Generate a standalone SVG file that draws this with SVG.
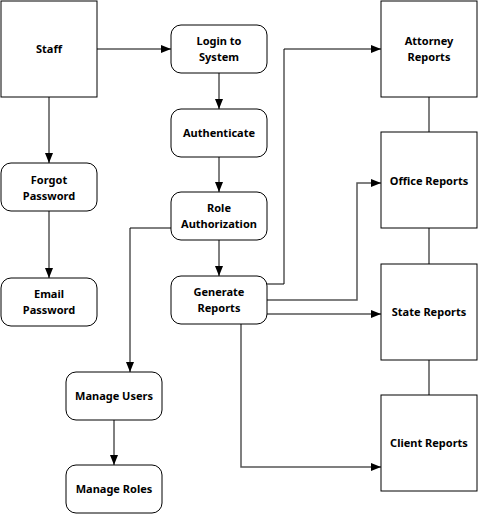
<svg xmlns="http://www.w3.org/2000/svg" width="478" height="514" viewBox="0 0 478 514">
<style>
.box{fill:#fff;stroke:#000;stroke-width:1}
.t{font-family:"Noto Sans","Open Sans",sans-serif;font-weight:bold;font-size:11px;fill:#000;text-anchor:middle}
.c{fill:none;stroke:#000;stroke-width:1}
.g{fill:none;stroke:#555;stroke-width:1.5}
</style>
<defs>
<marker id="a" viewBox="0 0 10 8" refX="10" refY="4" markerWidth="10" markerHeight="8" markerUnits="userSpaceOnUse" orient="auto">
<path d="M0,0L10,4L0,8z" fill="#000"/>
</marker>
</defs>
<rect width="478" height="514" fill="#fff"/>
<g id="connectors">
<path class="c" d="M97,49H171" marker-end="url(#a)"/>
<path class="c" d="M49,97V163" marker-end="url(#a)"/>
<path class="c" d="M49,211V278" marker-end="url(#a)"/>
<path class="c" d="M219,73V109" marker-end="url(#a)"/>
<path class="c" d="M219,157V192" marker-end="url(#a)"/>
<path class="c" d="M219,240V276" marker-end="url(#a)"/>
<path class="c" d="M171,228H130V372" marker-end="url(#a)"/>
<path class="c" d="M114,420V465" marker-end="url(#a)"/>
<path class="c" d="M267,284H284V49H381" marker-end="url(#a)"/>
<path class="g" d="M267,300H357V183H381" marker-end="url(#a)"/>
<path class="g" d="M267,314H381" marker-end="url(#a)"/>
<path class="g" d="M241,324V467H381" marker-end="url(#a)"/>
<path class="g" d="M429,97V132M429,228V264M429,360V395"/>
</g>
<g id="staff"><rect class="box" x="1" y="1" width="96" height="96"/><text class="t" x="49" y="53">Staff</text></g>
<g id="login"><rect class="box" x="171" y="25" width="96" height="48" rx="10"/><text class="t" x="219" y="45">Login to</text><text class="t" x="219" y="61">System</text></g>
<g id="authenticate"><rect class="box" x="171" y="109" width="96" height="48" rx="10"/><text class="t" x="219" y="137">Authenticate</text></g>
<g id="role"><rect class="box" x="171" y="192" width="96" height="48" rx="10"/><text class="t" x="219" y="212">Role</text><text class="t" x="219" y="228">Authorization</text></g>
<g id="generate"><rect class="box" x="171" y="276" width="96" height="48" rx="10"/><text class="t" x="219" y="296">Generate</text><text class="t" x="219" y="312">Reports</text></g>
<g id="forgot"><rect class="box" x="1" y="163" width="96" height="48" rx="10"/><text class="t" x="49" y="184">Forgot</text><text class="t" x="49" y="200">Password</text></g>
<g id="email"><rect class="box" x="1" y="278" width="96" height="48" rx="10"/><text class="t" x="49" y="298">Email</text><text class="t" x="49" y="314">Password</text></g>
<g id="manage-users"><rect class="box" x="66" y="372" width="96" height="48" rx="10"/><text class="t" x="114" y="400">Manage Users</text></g>
<g id="manage-roles"><rect class="box" x="66" y="465" width="96" height="48" rx="10"/><text class="t" x="114" y="493">Manage Roles</text></g>
<g id="attorney"><rect class="box" x="381" y="1" width="96" height="96"/><text class="t" x="429" y="45">Attorney</text><text class="t" x="429" y="61">Reports</text></g>
<g id="office"><rect class="box" x="381" y="132" width="96" height="96"/><text class="t" x="429" y="185">Office Reports</text></g>
<g id="state"><rect class="box" x="381" y="264" width="96" height="96"/><text class="t" x="429" y="316">State Reports</text></g>
<g id="client"><rect class="box" x="381" y="395" width="96" height="96"/><text class="t" x="429" y="447">Client Reports</text></g>
</svg>
